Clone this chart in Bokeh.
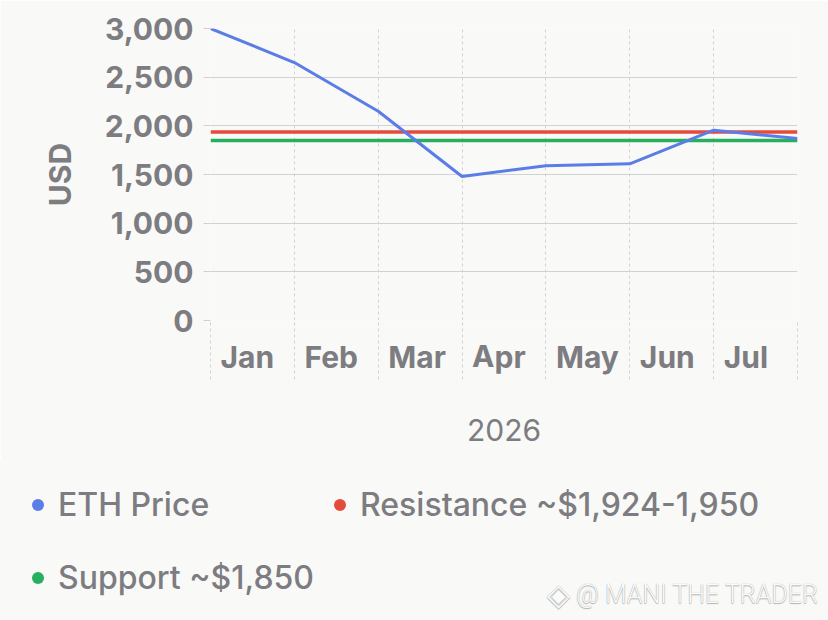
from bokeh.plotting import figure
from bokeh.layouts import column
from bokeh.models import FixedTicker, Range1d, Div, NumeralTickFormatter
from bokeh.embed import file_html
from bokeh.resources import INLINE

# data
months = ["Jan", "Feb", "Mar", "Apr", "May", "Jun", "Jul"]
eth_price = [3000, 2650, 2150, 1480, 1590, 1610, 1955, 1870]
resistance = 1937
support = 1850
y_ticks = [0, 500, 1000, 1500, 2000, 2500, 3000]
year_label = "2026"
series_names = ["ETH Price", "Resistance ~$1,924-1,950", "Support ~$1,850"]
watermark = "@ MANI THE TRADER"

BG = "#F9F9F7"
TXT = "#7C7C81"
GRID = "#D2D2D2"
BLUE = "#5B7DE8"
RED = "#E44B3C"
GREEN = "#27AE5F"
FONT = "Inter"
series_colors = [BLUE, RED, GREEN]

n = len(eth_price)
xs = list(range(n))

# ---- main chart ----
p = figure(width=828, height=460, output_backend="svg", toolbar_location=None,
           x_range=Range1d(0, n - 1), y_range=Range1d(0, max(y_ticks)),
           min_border_left=210, min_border_right=31, min_border_top=28, min_border_bottom=140,
           background_fill_color=BG, border_fill_color=BG, outline_line_color=None)

p.line([0, n - 1], [resistance, resistance], line_color=RED, line_width=3.5)
p.line([0, n - 1], [support, support], line_color=GREEN, line_width=3.5)
p.line(xs, eth_price, line_color=BLUE, line_width=3)

# month names sit just right of each dashed gridline
shift = 0.12
label_ticks = [i + shift for i in range(len(months))]
p.xaxis.ticker = FixedTicker(ticks=label_ticks, minor_ticks=xs)
p.xaxis.major_label_overrides = {t: m for t, m in zip(label_ticks, months)}
p.xaxis.major_label_orientation = -0.0001
p.xaxis.major_tick_in = 0
p.xaxis.major_tick_out = 0
p.xaxis.minor_tick_in = 0
p.xaxis.minor_tick_out = 59
p.xaxis.minor_tick_line_color = GRID
p.xaxis.minor_tick_line_dash = "3 3"
p.xaxis.axis_line_color = None
p.xaxis.major_label_standoff = -23
p.xaxis.major_label_text_font = FONT
p.xaxis.major_label_text_font_size = "30px"
p.xaxis.major_label_text_font_style = "bold"
p.xaxis.major_label_text_color = TXT
p.xaxis.axis_label = year_label
p.xaxis.axis_label_text_font = FONT
p.xaxis.axis_label_text_font_size = "30px"
p.xaxis.axis_label_text_font_style = "normal"
p.xaxis.axis_label_text_color = TXT
p.xaxis.axis_label_standoff = 23

p.yaxis.ticker = FixedTicker(ticks=y_ticks, minor_ticks=[])
p.yaxis.formatter = NumeralTickFormatter(format="0,0")
p.yaxis.major_tick_in = 0
p.yaxis.major_tick_out = 7
p.yaxis.major_tick_line_color = GRID
p.yaxis.axis_line_color = None
p.yaxis.major_label_standoff = 10
p.yaxis.major_label_text_font = FONT
p.yaxis.major_label_text_font_size = "30px"
p.yaxis.major_label_text_font_style = "bold"
p.yaxis.major_label_text_color = TXT
p.yaxis.axis_label = "USD"
p.yaxis.axis_label_text_font = FONT
p.yaxis.axis_label_text_font_size = "30px"
p.yaxis.axis_label_text_font_style = "bold"
p.yaxis.axis_label_text_color = TXT
p.yaxis.axis_label_standoff = 24

p.xgrid.ticker = FixedTicker(ticks=xs)
p.xgrid.grid_line_color = GRID
p.xgrid.grid_line_dash = "3 3"
p.ygrid.grid_line_color = GRID
p.ygrid.grid_line_width = 1

# ---- legend strip (html, two columns) ----
items = []
for i, (name, col) in enumerate(zip(series_names, series_colors)):
    left = 32 + (i % 2) * 302
    top = 25 + (i // 2) * 73
    items.append(
        f'<div style="position:absolute;left:{left}px;top:{top}px;height:40px;'
        f'display:flex;align-items:center;white-space:nowrap;">'
        f'<span style="display:inline-block;width:12px;height:12px;border-radius:50%;'
        f'background:{col};margin-right:14px;"></span>'
        f'<span style="font-size:32px;font-weight:500;">{name}</span></div>')
items.append(
    f'<div style="position:absolute;left:547px;top:117px;height:36px;display:flex;'
    f'align-items:center;white-space:nowrap;color:#FBFBFB;font-family:Roboto;'
    f'font-size:25px;font-weight:300;'
    f'text-shadow:0 0 1px #9A9A9A, 0 1px 1px #B5B5B5;">'
    f'<span style="font-family:\'DejaVu Sans\';font-size:30px;margin-right:6px;">\u25c8</span>'
    f'{watermark}</div>')

legend_html = (f'<div style="position:relative;width:828px;height:160px;background:{BG};'
               f'font-family:{FONT};color:{TXT};">' + "".join(items) + '</div>')
lg = Div(text=legend_html, width=828, height=160, margin=(0, 0, 0, 0))

open("out.html", "w").write(file_html(column(p, lg, spacing=0), INLINE))
